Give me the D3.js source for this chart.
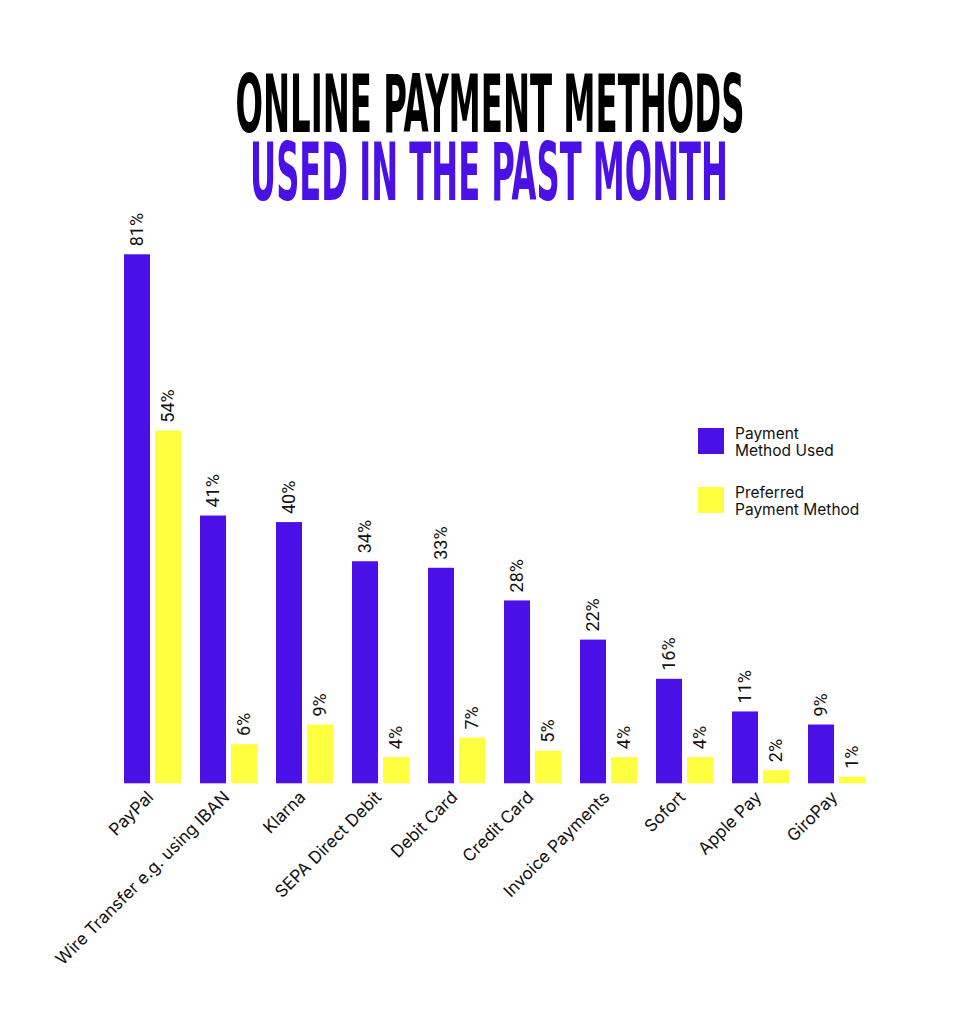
<!DOCTYPE html>
<html>
<head>
<meta charset="utf-8">
<script src="https://cdn.jsdelivr.net/npm/d3@7"></script>
<style>
  body { margin: 0; background: #fff; }
</style>
</head>
<body>
<div id="chart"></div>
<script>
var categories = ["PayPal", "Wire Transfer e.g. using IBAN", "Klarna", "SEPA Direct Debit",
                  "Debit Card", "Credit Card", "Invoice Payments", "Sofort", "Apple Pay", "GiroPay"];
var used      = [81, 41, 40, 34, 33, 28, 22, 16, 11, 9];
var preferred = [54, 6, 9, 4, 7, 5, 4, 4, 2, 1];
var series = ["Payment Method Used", "Preferred Payment Method"];
var legend_lines = [["Payment", "Method Used"], ["Preferred", "Payment Method"]];
var title_lines = ["ONLINE PAYMENT METHODS", "USED IN THE PAST MONTH"];

var width = 972, height = 1024;
var blue = "#4a10e6", yellow = "#ffff40";
var colors = [blue, yellow];

var svg = d3.select("#chart").append("svg")
            .attr("width", width)
            .attr("height", height);

// title: narrow bold font, squeezed to the target width with a scale
var title_font = "'Liberation Sans Narrow', 'DejaVu Sans Condensed', 'DejaVu Sans', sans-serif";
var title_spec = [{cx: 490, y: 132, w: 509, fill: "#000"},
                  {cx: 489, y: 200, w: 478, fill: blue}];

title_lines.forEach(function(t, i){
	var s = title_spec[i];
	var g = svg.append("g");
	var txt = g.append("text")
	           .attr("text-anchor", "middle")
	           .attr("font-family", title_font)
	           .attr("font-stretch", "condensed")
	           .attr("font-weight", 900)
	           .attr("font-size", 80)
	           .attr("fill", s.fill)
	           .text(t);
	var natural = txt.node().getComputedTextLength();
	g.attr("transform", "translate(" + s.cx + "," + s.y + ") scale(" + (s.w / natural) + ",1)");
});

// scales
var x0 = d3.scaleBand()
           .domain(categories)
           .range([124, 865])
           .paddingInner(0.25)
           .paddingOuter(0);

var x1 = d3.scaleBand()
           .domain(series)
           .range([0, x0.bandwidth()])
           .paddingInner(0.16);

var y = d3.scaleLinear()
          .domain([0, d3.max(used)])
          .range([783.3, 254.3]);

var rows = categories.map(function(c, i){
	return {cat: c, vals: [used[i], preferred[i]]};
});

var groups = svg.selectAll(".grp")
                .data(rows)
                .enter()
                .append("g")
                .attr("class", "grp")
                .attr("transform", function(d){ return "translate(" + x0(d.cat) + ",0)"; });

groups.selectAll("rect")
      .data(function(d){ return d.vals.map(function(v, k){ return {s: series[k], v: v, k: k}; }); })
      .enter()
      .append("rect")
      .attr("x", function(d){ return x1(d.s); })
      .attr("y", function(d){ return y(d.v); })
      .attr("width", x1.bandwidth())
      .attr("height", function(d){ return y(0) - y(d.v); })
      .attr("fill", function(d){ return colors[d.k]; });

// value labels, rotated
groups.selectAll(".val")
      .data(function(d){ return d.vals.map(function(v, k){ return {s: series[k], v: v}; }); })
      .enter()
      .append("text")
      .attr("class", "val")
      .attr("transform", function(d){
      	 var cx = x1(d.s) + x1.bandwidth()/2;
      	 return "translate(" + cx + "," + (y(d.v) - 8) + ") rotate(-90)";
      })
      .attr("dy", "0.35em")
      .attr("font-family", "Roboto, sans-serif")
      .attr("font-size", 18)
      .attr("fill", "#111")
      .text(function(d){ return d.v + "%"; });

// category labels
var xAxis = svg.append("g")
               .attr("transform", "translate(0," + y(0) + ")")
               .call(d3.axisBottom(x0).tickSize(0).tickPadding(0));
xAxis.select(".domain").remove();
xAxis.selectAll("text")
     .attr("font-family", "Inter, sans-serif")
     .attr("font-size", 17)
     .attr("fill", "#111")
     .attr("text-anchor", "end")
     .attr("dy", null)
     .attr("y", null)
     .attr("transform", "translate(2,15) rotate(-45)");

// legend
var legend = svg.append("g").attr("transform", "translate(698,428)");
var leg = legend.selectAll("g")
                .data(series)
                .enter()
                .append("g")
                .attr("transform", function(d, i){ return "translate(0," + i*59 + ")"; });
leg.append("rect")
   .attr("width", 26).attr("height", 26)
   .attr("fill", function(d, i){ return colors[i]; });
leg.append("text")
   .attr("x", 37)
   .attr("font-family", "Inter, sans-serif")
   .attr("font-size", 15.5)
   .attr("fill", "#111")
   .selectAll("tspan")
   .data(function(d, i){ return legend_lines[i]; })
   .enter()
   .append("tspan")
   .attr("x", 37)
   .attr("y", function(d, j){ return 11 + j*17; })
   .text(function(d){ return d; });
</script>
</body>
</html>
